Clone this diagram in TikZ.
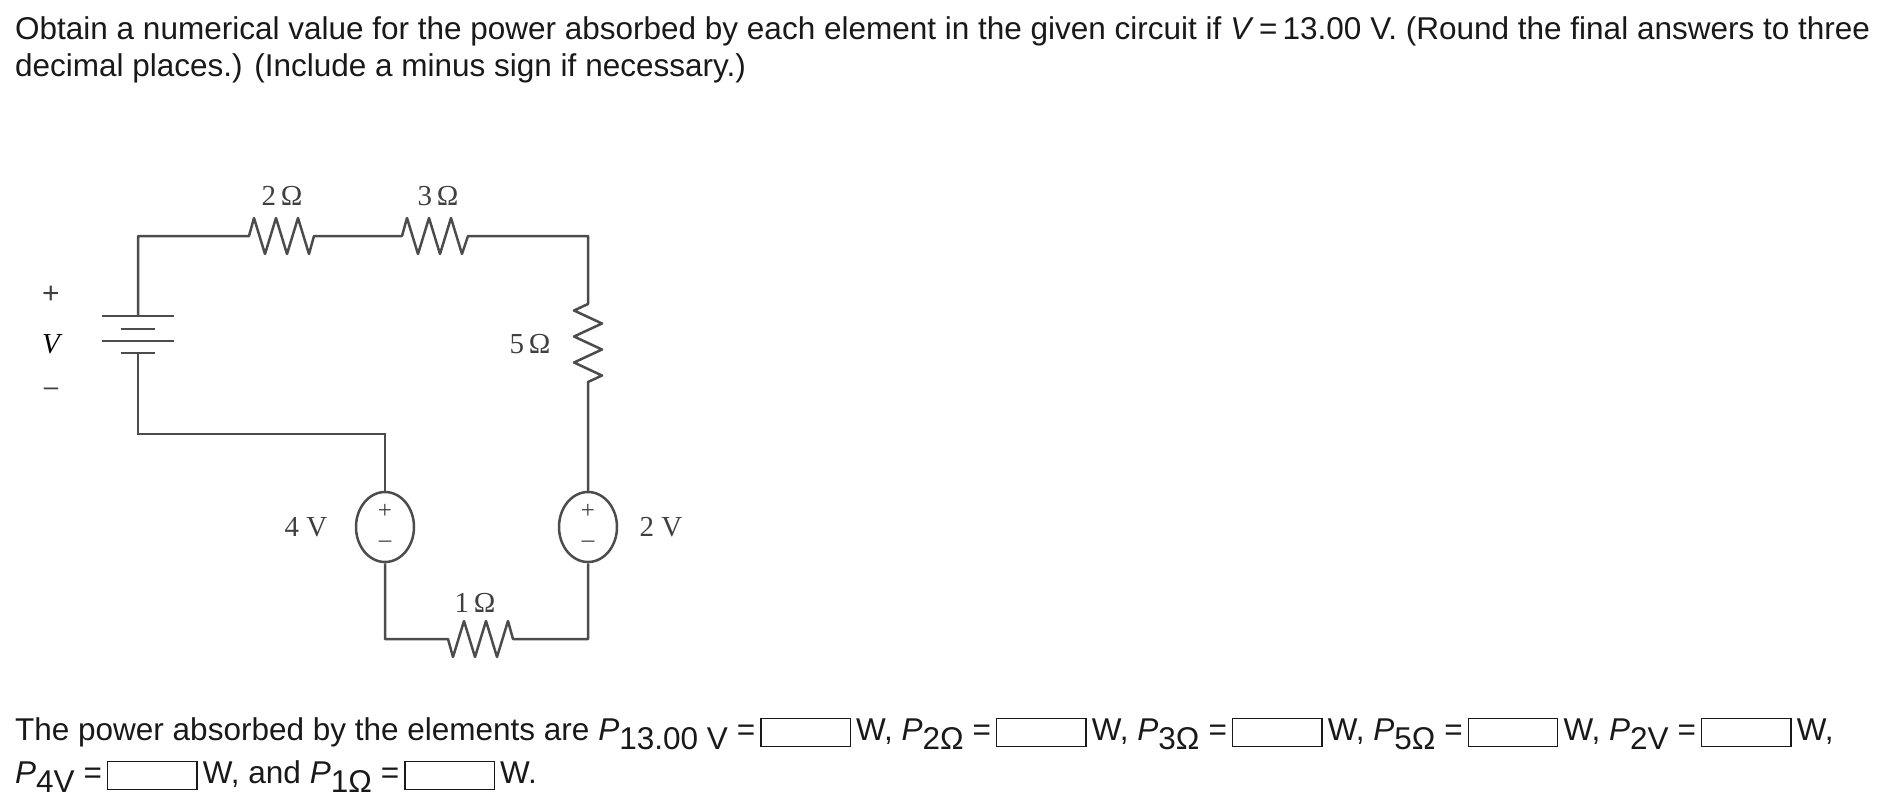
\documentclass[tikz,border=0pt]{standalone}
\usepackage{fontspec}
\setmainfont{Liberation Sans}
\newfontfamily\circfont{Liberation Serif}
\usetikzlibrary{shapes.geometric}
\newcommand{\ansbox}{\raisebox{-6pt}{\setlength{\fboxsep}{0pt}\setlength{\fboxrule}{1.3pt}\fbox{\rule{0pt}{27pt}\hspace{88pt}}}}
\newcommand{\Psub}[1]{\textit{P}\raisebox{-0.3em}{#1}}
\newcommand{\eqs}{\hspace{9pt}=\hspace{5pt}}
\begin{document}
\begin{tikzpicture}[x=1pt,y=-1pt,
  wire/.style={draw=black!70,line width=2.5pt},
  clab/.style={font=\circfont\fontsize{29}{31}\selectfont,text=black!75,inner sep=0pt},
  sgn/.style={font=\circfont\fontsize{25}{27}\selectfont,text=black!75,inner sep=0pt},
  txt/.style={font=\fontsize{31.5}{36}\selectfont,inner sep=0pt,anchor=base west,text=black!90},
  src/.style={draw=black!70,line width=2.5pt,ellipse,minimum width=58pt,minimum height=70pt,inner sep=0pt}]
\useasboundingbox (0,0) rectangle (1898,808);
% title
\node[txt] (t1) at (15,40) {Obtain a numerical value for the power absorbed by each element in the given circuit if \textit{V}\,=\,13.00 V. (Round the final answers to three};
\node[txt] (t2) at (15,77) {decimal places.) (Include a minus sign if necessary.)};
% coordinates
\coordinate (tl) at (138,236);
\coordinate (tr) at (588,236);
\coordinate (bl) at (138,434);
\coordinate (bm) at (385,434);
\coordinate (b4) at (385,639);
\coordinate (br) at (588,639);
\node[src] (s4) at (385,527) {};
\node[src] (s2) at (588,527) {};
% battery plates
\coordinate (p1) at (138,316);
\coordinate (p4) at (138,353);
\draw[wire] (102,316) -- (174,316);
\draw[wire] (121,329) -- (155,329);
\draw[wire] (102,341) -- (174,341);
\draw[wire] (121,353) -- (155,353);
% top wire with 2 and 3 ohm
\draw[wire,line join=round] (p1) -- (tl) -- (249,236)
  -- ++(5,-18) -- ++(11,36) -- ++(11,-36) -- ++(11,36) -- ++(11,-36) -- ++(11,36) -- ++(5,-18)
  -- (402,236)
  -- ++(5,-18) -- ++(11,36) -- ++(11,-36) -- ++(11,36) -- ++(11,-36) -- ++(11,36) -- ++(6,-18)
  -- (tr) -- (588,304)
  -- ++(-14,6.5) -- ++(28,13) -- ++(-28,13) -- ++(28,13) -- ++(-28,13) -- ++(28,13) -- ++(-14,6.5)
  -- (s2.north);
\draw[wire] (p4) -- (bl) -- (bm) -- (s4.north);
\draw[wire,line join=round] (s4.south) -- (b4) -- (448,639)
  -- ++(5,18) -- ++(11,-36) -- ++(11,36) -- ++(11,-36) -- ++(11,36) -- ++(11,-36) -- ++(5,18)
  -- (br) -- (s2.south);
% source signs
\node[sgn] at (385,511) {+};
\node[sgn] at (385,544) {\textendash};
\node[sgn] at (588,511) {+};
\node[sgn] at (588,544) {\textendash};
% labels
\node[clab] (l2) at (282,196) {2\,Ω};
\node[clab] (l3) at (438,196) {3\,Ω};
\node[clab] (l5) at (530,344) {5\,Ω};
\node[clab] (l1) at (475,603) {1\,Ω};
\node[clab] (l4v) at (306,527) {4 V};
\node[clab] (l2v) at (661,527) {2 V};
\node[clab,font=\fontsize{30}{32}\selectfont] (lp) at (51,295) {+};
\node[clab,font=\circfont\itshape\fontsize{29}{31}\selectfont,text=black] (lv) at (51,344) {V};
\node[clab,font=\fontsize{26}{28}\selectfont] (lm) at (51,392) {\textendash};
% answer lines
\node[txt] (a1) at (15,740) {The power absorbed by the elements are \Psub{13.00 V}\eqs\ansbox\,W, \Psub{2Ω}\eqs\ansbox\,W, \Psub{3Ω}\eqs\ansbox\,W, \Psub{5Ω}\eqs\ansbox\,W, \Psub{2V}\eqs\ansbox\,W,};
\node[txt] (a2) at (15,783) {\Psub{4V}\eqs\ansbox\,W, and \Psub{1Ω}\eqs\ansbox\,W.};
\end{tikzpicture}
\end{document}
